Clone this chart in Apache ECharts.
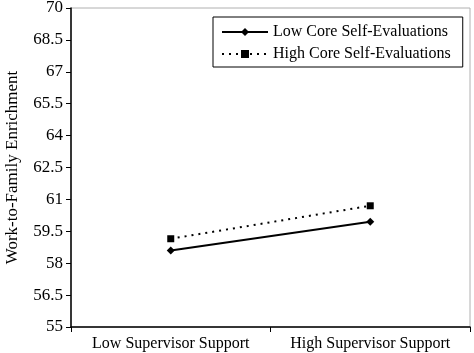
<!DOCTYPE html>
<html>
<head>
<meta charset="utf-8">
<script src="https://cdn.jsdelivr.net/npm/echarts@6/dist/echarts.min.js"></script>
<style>
  html, body { margin: 0; padding: 0; background: #fff; }
  #chart { width: 474px; height: 353px; }
</style>
</head>
<body>
<div id="chart"></div>
<script>
var categories = ['Low Supervisor Support', 'High Supervisor Support'];
var lowCse = [58.6, 59.95];
var highCse = [59.15, 60.7];
var seriesNames = ['Low Core Self-Evaluations', 'High Core Self-Evaluations'];

var font = 'Liberation Serif';
var chart = echarts.init(document.getElementById('chart'));
chart.setOption({
  backgroundColor: '#fff',
  animation: false,
  textStyle: { fontFamily: font },
  grid: {
    left: 71, right: 4, top: 8, bottom: 26,
    outerBoundsMode: 'none',
    show: true, borderColor: '#b0b0b0', borderWidth: 1
  },
  legend: {
    orient: 'vertical',
    left: 213, top: 17,
    padding: [7, 12, 5, 8],
    itemGap: 6,
    itemWidth: 46, itemHeight: 10,
    borderColor: '#000', borderWidth: 1,
    textStyle: { fontFamily: font, fontSize: 16, color: '#000' },
    data: seriesNames
  },
  xAxis: {
    type: 'category',
    data: categories,
    boundaryGap: true,
    axisLine: { lineStyle: { color: '#000', width: 1.5 } },
    axisTick: { show: true, interval: 0, length: 5, lineStyle: { color: '#000' } },
    axisLabel: { interval: 0, fontFamily: font, fontSize: 16, color: '#000', margin: 9 }
  },
  yAxis: {
    type: 'value',
    min: 55, max: 70, interval: 1.5,
    name: 'Work-to-Family Enrichment',
    nameLocation: 'middle',
    nameGap: 50,
    nameTextStyle: { fontFamily: font, fontSize: 17, color: '#000' },
    axisLine: { show: true, lineStyle: { color: '#000', width: 1.5 } },
    axisTick: { show: true, length: 5, lineStyle: { color: '#000' } },
    splitLine: { show: false },
    axisLabel: { fontFamily: font, fontSize: 17, color: '#000', margin: 8 }
  },
  series: [
    {
      name: seriesNames[0],
      type: 'line',
      data: lowCse,
      symbol: 'diamond', symbolSize: 8,
      itemStyle: { color: '#000' },
      lineStyle: { color: '#000', width: 2 }
    },
    {
      name: seriesNames[1],
      type: 'line',
      data: highCse,
      symbol: 'rect', symbolSize: 7,
      itemStyle: { color: '#000' },
      lineStyle: { color: '#000', width: 2, type: [2, 5] }
    }
  ]
});
</script>
</body>
</html>
